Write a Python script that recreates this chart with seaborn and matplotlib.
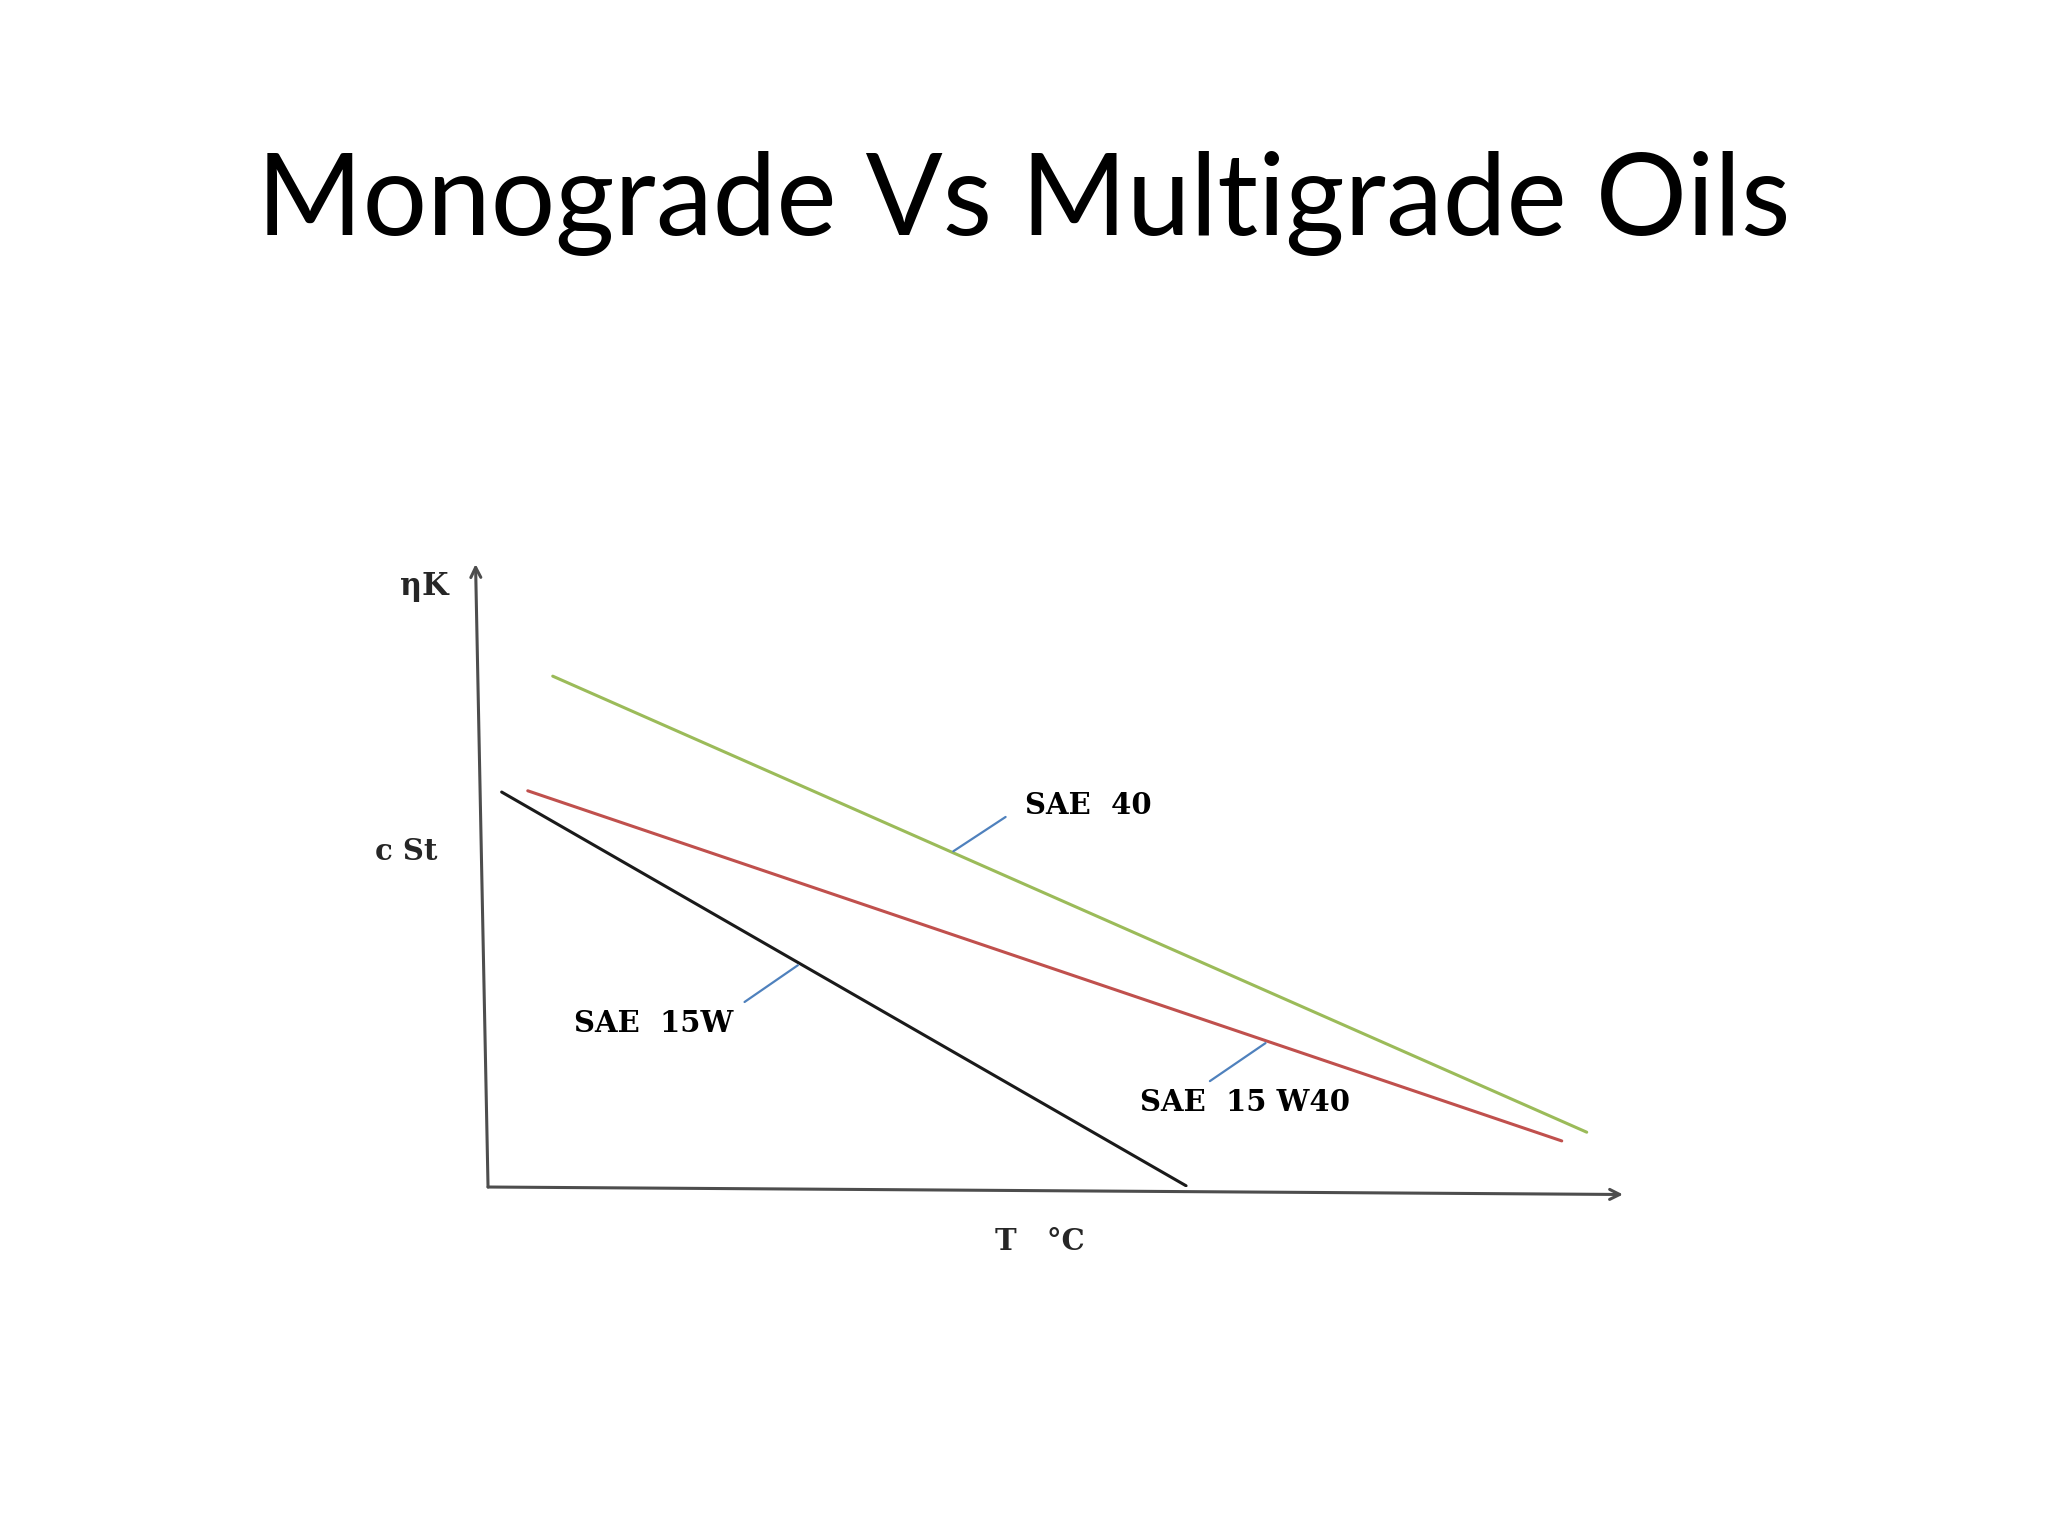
import matplotlib
matplotlib.use("Agg")
import matplotlib.pyplot as plt
import seaborn as sns
import pandas as pd

# ---- data (schematic, arbitrary units 0-100) ----
series = ["SAE 40", "SAE 15W40", "SAE 15W"]
temp_start = [5.7, 3.5, 1.2]
temp_end = [96.8, 94.6, 61.5]
visc_start = [82.0, 63.6, 63.4]
visc_end = [8.8, 7.4, 0.2]
colors = ["#9bbb59", "#c0504d", "#1a1a1a"]

# leader lines: (x0, y0, x1, y1) and label anchor (x, y)
leader_x0 = [41.0, 63.6, 22.6]
leader_y0 = [53.9, 17.0, 29.7]
leader_x1 = [45.6, 68.5, 27.3]
leader_y1 = [59.4, 23.1, 35.6]
label_x = [47.3, 57.4, 7.6]
label_y = [61.2, 13.6, 26.2]
label_text = ["SAE  40", "SAE  15 W40", "SAE  15W"]

title = "Monograde Vs Multigrade Oils"
y_label_top = "ηK"
y_label_mid = "c St"
x_label = "T   °C"

df = pd.DataFrame({
    "T": temp_start + temp_end,
    "visc": visc_start + visc_end,
    "grade": series + series,
})

sns.set_theme(style="white")
plt.rcParams["font.family"] = ["DejaVu Serif", "DejaVu Sans"]

fig = plt.figure(figsize=(20.48, 15.36), dpi=100)
fig.patch.set_facecolor("white")
ax = fig.add_axes([0.2383, 0.2272, 0.5542, 0.4056])
ax.set_facecolor("white")

sns.lineplot(data=df, x="T", y="visc", hue="grade", hue_order=series,
             palette=dict(zip(series, colors)), linewidth=2.2, legend=False,
             ax=ax, sort=True)

ax.set_xlim(0, 100)
ax.set_ylim(0, 100)
for s in ax.spines.values():
    s.set_visible(False)
ax.set_xticks([])
ax.set_yticks([])
ax.set_xlabel("")
ax.set_ylabel("")

# hand-drawn style axes with arrows
arrow_kw = dict(arrowstyle="->", color="#4d4d4d", lw=2.2, mutation_scale=18,
                shrinkA=0, shrinkB=0)
ax.annotate("", xy=(-0.011, 1.0), xytext=(0.0, 0.0), xycoords="axes fraction",
            textcoords="axes fraction", arrowprops=arrow_kw, annotation_clip=False)
ax.annotate("", xy=(1.0, -0.012), xytext=(0.0, 0.0), xycoords="axes fraction",
            textcoords="axes fraction", arrowprops=arrow_kw, annotation_clip=False)

# leader lines and labels
for x0, y0, x1, y1 in zip(leader_x0, leader_y0, leader_x1, leader_y1):
    ax.plot([x0, x1], [y0, y1], color="#4f81bd", lw=1.6)
for lx, ly, t in zip(label_x, label_y, label_text):
    ax.text(lx, ly, t, ha="left", va="center", fontsize=21, fontweight="bold",
            color="black", family=["DejaVu Serif", "DejaVu Sans"])

# axis annotations
fig.text(400 / 2048, 1 - 587 / 1536, y_label_top, ha="left", va="center",
         fontsize=22, fontweight="bold", family=["DejaVu Serif", "DejaVu Sans"])
fig.text(375 / 2048, 1 - 852 / 1536, y_label_mid, ha="left", va="center",
         fontsize=21, fontweight="bold", family=["DejaVu Serif", "DejaVu Sans"])
fig.text(995 / 2048, 1 - 1242 / 1536, x_label, ha="left", va="center",
         fontsize=21, fontweight="bold", family=["DejaVu Serif", "DejaVu Sans"])

# title
fig.text(0.5, 1 - 235 / 1536, title, ha="center", va="baseline",
         fontsize=82, family=["Lato", "DejaVu Sans"], color="black")

fig.savefig("out.png", dpi=100, facecolor="white")
